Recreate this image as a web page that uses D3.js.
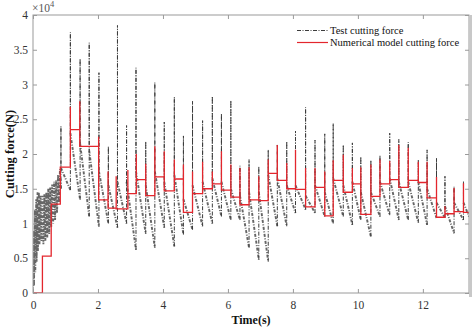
<!DOCTYPE html>
<html>
<head>
<meta charset="utf-8">
<script src="https://cdn.jsdelivr.net/npm/d3@7"></script>
<style>
html,body{margin:0;padding:0;background:#fff;}
svg{display:block;}
</style>
</head>
<body>
<svg id="chart" width="474" height="327"></svg>
<script>
// ---- data (force values in units of 1e4 N) ----
const xTicks = [0, 2, 4, 6, 8, 10, 12];
const yTicks = [0, 0.5, 1, 1.5, 2, 2.5, 3, 3.5, 4];
const yTickLabels = ["0", "0.5", "1", "1.5", "2", "2.5", "3", "3.5", "4"];
const xMax = 13.42;

// Test cutting force: initial noisy ramp [time, force]
const testEarly = [[0,0],[0.02,0.9],[0.03,0.1],[0.06,1.2],[0.07,0.3],[0.10,1.35],[0.11,0.45],[0.14,1.45],[0.15,0.6],[0.18,1.45],[0.20,0.7],[0.23,1.4],[0.26,0.75],[0.29,1.4],[0.32,0.7],[0.35,1.42],[0.38,0.75],[0.41,1.45],[0.44,0.8],[0.47,1.5],[0.50,0.85],[0.53,1.52],[0.56,0.95],[0.59,1.56],[0.62,1.0],[0.65,1.6],[0.68,1.05],[0.71,1.62],[0.74,1.15],[0.77,1.7],[0.80,1.3],[0.83,1.78],[0.86,1.5]];
// Test cutting force: sawtooth cycles
const testTimes   = [0.86,1.15,1.45,1.73,2.03,2.32,2.60,2.88,3.17,3.47,3.75,4.04,4.35,4.63,4.91,5.22,5.52,5.80,6.09,6.37,6.65,6.95,7.24,7.52,7.81,8.08,8.39,8.68,8.98,9.24,9.55,9.83,10.09,10.40,10.68,10.98,11.26,11.55,11.86,12.13,12.42,12.68,12.96,13.25];
const testPeaks   = [2.40,3.75,3.37,3.60,3.17,2.11,3.85,2.41,3.24,2.18,3.03,2.46,2.82,2.26,2.76,2.48,2.83,2.58,2.77,1.83,1.92,1.82,2.06,2.13,2.18,2.33,2.67,2.20,2.29,2.44,2.13,2.16,1.96,1.91,1.98,2.30,2.21,2.17,1.92,2.06,1.94,1.68,1.53,1.61];
const testStarts  = [1.80,2.30,2.15,2.05,1.75,1.55,1.60,1.60,1.75,1.55,1.75,1.60,1.70,1.35,1.55,1.60,1.65,1.60,1.50,1.40,1.45,1.45,1.70,1.65,1.55,1.55,1.40,1.55,1.45,1.65,1.55,1.60,1.45,1.45,1.60,1.65,1.60,1.60,1.60,1.50,1.30,1.25,1.30,1.30];
const testTroughs = [1.48,1.34,1.10,0.95,1.00,0.94,1.00,0.62,0.85,0.65,0.94,0.67,0.84,0.91,0.96,1.00,1.10,1.05,1.05,0.65,0.48,0.45,0.96,0.96,1.15,1.20,1.15,1.10,1.00,1.10,0.98,1.05,0.81,1.10,1.12,1.05,1.05,1.01,0.98,1.08,1.08,0.86,1.05,1.10];

// Numerical model cutting force: step changes
const modelTimes  = [0.29,0.56,0.84,1.15,1.44,2.02,2.31,2.56,2.92,3.18,3.47,3.75,4.04,4.35,4.63,4.91,5.22,5.52,5.80,6.09,6.37,6.65,6.95,7.24,7.52,7.81,8.08,8.39,8.68,8.98,9.24,9.55,9.83,10.09,10.40,10.68,10.98,11.26,11.55,11.86,12.13,12.42,12.68,12.96,13.25];
const modelSpikes = [0.53,1.28,1.81,2.68,2.76,2.25,1.75,1.68,1.77,2.00,1.86,2.11,2.04,1.92,1.85,1.75,1.89,1.75,2.04,1.85,1.80,1.81,1.68,1.92,2.13,1.87,2.06,1.80,1.80,1.75,1.91,1.99,1.80,1.81,1.85,1.92,1.90,2.13,2.09,1.89,1.89,1.67,1.25,1.51,1.58];
const modelLevels = [0.53,1.28,1.81,2.35,2.11,1.34,1.22,1.21,1.43,1.63,1.40,1.67,1.47,1.64,1.16,1.43,1.50,1.57,1.48,1.38,1.27,1.34,1.33,1.72,1.62,1.50,1.49,1.24,1.52,1.11,1.62,1.45,1.57,1.13,1.39,1.57,1.63,1.52,1.62,1.59,1.37,1.09,1.14,1.17,1.16];

const legendLabels = ["Test cutting force", "Numerical model cutting force"];

// ---- layout ----
const svg = d3.select("#chart");
const L = 33, R = 469, T = 15, B = 293;
const x = d3.scaleLinear().domain([0, xMax]).range([L, R]);
const y = d3.scaleLinear().domain([0, 4]).range([B, T]);
const serif = "'Liberation Serif','Times New Roman',serif";
const axisCol = "#9a9a9a";
const greyCol = "#3c3c3c";
const redCol = "#e3262d";

svg.append("defs").append("clipPath").attr("id","clip")
  .append("rect").attr("x", L).attr("y", T).attr("width", R - L).attr("height", B - T);

const line = d3.line().x(d => x(d[0])).y(d => y(d[1]));
const plot = svg.append("g").attr("clip-path","url(#clip)");

// test series: dense parts (early ramp + decays) and thin spikes
const denseSegs = [testEarly];
const spikeSegs = [];
testTimes.forEach((t, i) => {
  const prev = i === 0 ? testEarly[testEarly.length - 1][1] : testTroughs[i - 1];
  spikeSegs.push([[t, prev], [t, testPeaks[i]], [t, testStarts[i]]]);
  const tEnd = i < testTimes.length - 1 ? testTimes[i + 1] : xMax;
  denseSegs.push([[t, testStarts[i]], [tEnd, testTroughs[i]]]);
});

plot.selectAll("path.dense").data(denseSegs).join("path")
  .attr("class","dense").attr("d", line)
  .attr("fill","none").attr("stroke", "#555").attr("stroke-width", 1.9)
  .attr("stroke-opacity", 0.9)
  .attr("stroke-dasharray","3,1.5,1,1.5");
plot.selectAll("path.spike").data(spikeSegs).join("path")
  .attr("class","spike").attr("d", line)
  .attr("fill","none").attr("stroke", greyCol).attr("stroke-width", 1.0)
  .attr("stroke-dasharray","4,1.5,1,1.5");

// model series
const modelPts = [[0, 0]];
modelTimes.forEach((t, i) => {
  const prev = i === 0 ? 0 : modelLevels[i - 1];
  modelPts.push([t, prev], [t, modelSpikes[i]], [t, modelLevels[i]]);
});
modelPts.push([xMax, modelLevels[modelLevels.length - 1]]);
plot.append("path").datum(modelPts).attr("d", line)
  .attr("fill","none").attr("stroke", redCol).attr("stroke-width", 1.3);

// ---- axes box ----
const box = svg.append("g");
box.append("rect").attr("x", L).attr("y", T).attr("width", R - L).attr("height", B - T)
  .attr("fill","none").attr("stroke", axisCol).attr("stroke-width", 1);
box.append("rect").attr("x", R).attr("y", T).attr("width", 3).attr("height", B - T + 4)
  .attr("fill","#c8c8c8");

const tl = 4;
const gx = svg.append("g").attr("transform", `translate(0,${B})`)
  .call(d3.axisBottom(x).tickValues(xTicks).tickSize(-tl).tickPadding(8).tickFormat(d3.format("d")));
const gxt = svg.append("g").attr("transform", `translate(0,${T})`)
  .call(d3.axisTop(x).tickValues(xTicks).tickSize(-tl).tickFormat(""));
const gy = svg.append("g").attr("transform", `translate(${L},0)`)
  .call(d3.axisLeft(y).tickValues(yTicks).tickSize(-tl).tickPadding(5).tickFormat((d, i) => yTickLabels[i]));
const gyr = svg.append("g").attr("transform", `translate(${R},0)`)
  .call(d3.axisRight(y).tickValues(yTicks).tickSize(-tl).tickFormat(""));
[gx, gxt, gy, gyr].forEach(g => {
  g.select(".domain").remove();
  g.selectAll(".tick line").attr("stroke", axisCol);
  g.selectAll("text").attr("font-family", serif).attr("font-size", 11.5).attr("fill", "#333");
});

// exponent
const ex = svg.append("text").attr("x", L - 1).attr("y", 12)
  .attr("font-family", serif).attr("font-size", 11.5).attr("fill", "#555");
ex.append("tspan").text("\u00d710");
ex.append("tspan").attr("dy", -5).attr("font-size", 8.5).text("4");

// axis labels
svg.append("text").attr("x", (L + R) / 2).attr("y", 324).attr("text-anchor","middle")
  .attr("font-family", serif).attr("font-weight","bold").attr("font-size", 12).attr("fill","#111")
  .text("Time(s)");
svg.append("text").attr("transform", `translate(10,${(T + B) / 2}) rotate(-90)`)
  .attr("text-anchor","middle").attr("dy", "0.35em")
  .attr("font-family", serif).attr("font-weight","bold").attr("font-size", 12.5).attr("fill","#111")
  .text("Cutting force(N)");

// legend
const lg = svg.append("g");
const legStyles = [
  {stroke: greyCol, dash: "4,1.5,1,1.5"},
  {stroke: redCol, dash: null}
];
legendLabels.forEach((lab, i) => {
  const yy = 30.5 + i * 12;
  lg.append("line").attr("x1", 297).attr("x2", 328).attr("y1", yy).attr("y2", yy)
    .attr("stroke", legStyles[i].stroke).attr("stroke-width", 1.2)
    .attr("stroke-dasharray", legStyles[i].dash);
  lg.append("text").attr("x", 330).attr("y", yy + 3.8)
    .attr("font-family", serif).attr("font-size", 10.5).attr("fill","#111").text(lab);
});
</script>
</body>
</html>
